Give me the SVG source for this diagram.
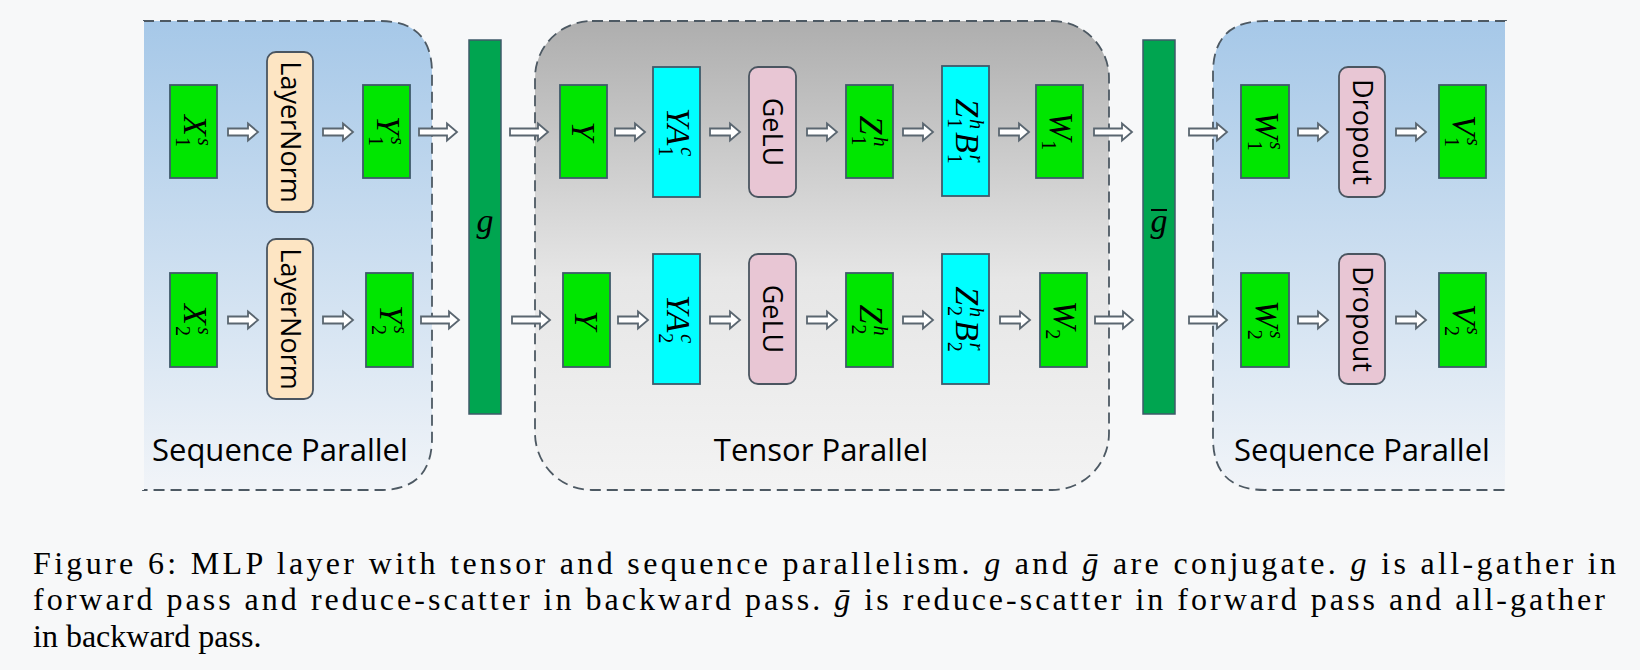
<svg xmlns="http://www.w3.org/2000/svg" width="1640" height="670" viewBox="0 0 1640 670">
<defs>
<linearGradient id="gb" x1="0" y1="0" x2="0" y2="1"><stop offset="0" stop-color="#a6c8e8"/><stop offset="1" stop-color="#f1f4f8"/></linearGradient>
<linearGradient id="gg" x1="0" y1="0" x2="0" y2="1"><stop offset="0" stop-color="#aeaeae"/><stop offset="0.55" stop-color="#e6e6e6"/><stop offset="1" stop-color="#f3f3f3"/></linearGradient>
<path id="ar" d="M0,-3.5 H20 V-8.5 L30,0 L20,8.5 V3.5 H0 Z" fill="#fff" stroke="#5a6670" stroke-width="1.8"/>
<path id="arl" d="M0,-3.5 H28 V-8.5 L38,0 L28,8.5 V3.5 H0 Z" fill="#fff" stroke="#5a6670" stroke-width="1.8"/>
</defs>
<style>
.g{fill:#00e600;stroke:#3f5a6a;stroke-width:1.8}
.c{fill:#00ffff;stroke:#3f5a6a;stroke-width:1.8}
.ln{fill:#fde5c3;stroke:#4a5560;stroke-width:1.8}
.ge{fill:#e8c6d4;stroke:#4a5560;stroke-width:1.8}
.bar{fill:#00a550;stroke:#3f5a6a;stroke-width:1.5}
.m{font-family:"Liberation Serif","DejaVu Serif",serif;font-style:italic;font-size:34px;fill:#000}
.s{font-size:20px}
.sn{font-style:normal}
.w{font-family:"Open Sans","Liberation Sans",sans-serif;font-size:27px;fill:#000}
.lab{font-family:"Open Sans","Liberation Sans",sans-serif;font-size:31px;fill:#000}
.cap{font-family:"Liberation Serif","DejaVu Serif",serif;font-size:32px;fill:#000}
.pn{stroke:#4d5963;stroke-width:1.8;stroke-dasharray:11,6}
</style>
<rect width="1640" height="670" fill="#f7f8f9"/>
<g id="panel-left"><path class="pn" d="M143,21 H380 Q432,21 432,73 V438 Q432,490 380,490 H143 Z" fill="url(#gb)"/><path d="M143,21 V490" stroke="#f7f8f9" stroke-width="2"/><text class="lab" x="152" y="461">Sequence Parallel</text></g>
<g id="panel-mid"><rect class="pn" x="535" y="21" width="574" height="469" rx="57" fill="url(#gg)"/><text class="lab" x="821" y="461" text-anchor="middle">Tensor Parallel</text></g>
<g id="panel-right"><path class="pn" d="M1506,21 H1265 Q1213,21 1213,73 V438 Q1213,490 1265,490 H1506 Z" fill="url(#gb)"/><path d="M1506,21 V490" stroke="#f7f8f9" stroke-width="2"/><text class="lab" x="1362" y="461" text-anchor="middle">Sequence Parallel</text></g>

<g id="connectors">
<use href="#ar" x="228" y="132"/><use href="#ar" x="323" y="132"/><use href="#arl" x="419" y="132"/><use href="#arl" x="510" y="132"/>
<use href="#ar" x="615" y="132"/><use href="#ar" x="710" y="132"/><use href="#ar" x="807" y="132"/><use href="#ar" x="903" y="132"/><use href="#ar" x="999" y="132"/><use href="#arl" x="1094" y="132"/>
<use href="#arl" x="1189" y="132"/><use href="#ar" x="1298" y="132"/><use href="#ar" x="1396" y="132"/>
<use href="#ar" x="228" y="320"/><use href="#ar" x="323" y="320"/><use href="#arl" x="421" y="320"/><use href="#arl" x="512" y="320"/>
<use href="#ar" x="618" y="320"/><use href="#ar" x="710" y="320"/><use href="#ar" x="807" y="320"/><use href="#ar" x="903" y="320"/><use href="#ar" x="1000" y="320"/><use href="#arl" x="1095" y="320"/>
<use href="#arl" x="1189" y="320"/><use href="#ar" x="1298" y="320"/><use href="#ar" x="1396" y="320"/>
</g>

<g id="X1"><rect class="g" x="170" y="85" width="47" height="93"/><text class="m" transform="translate(193,131) rotate(90)" text-anchor="middle" dy="9">X<tspan class="s sn" dx="1" dy="8">1</tspan><tspan class="s" dx="-9" dy="-22">s</tspan></text></g>
<g id="LN1"><rect class="ln" x="267" y="52" width="46" height="160" rx="9"/><text class="w" transform="translate(290,132) rotate(90)" text-anchor="middle" dy="9">LayerNorm</text></g>
<g id="Y1s"><rect class="g" x="363" y="85" width="47" height="93"/><text class="m" transform="translate(386,131) rotate(90)" text-anchor="middle" dy="9">Y<tspan class="s sn" dx="1" dy="8">1</tspan><tspan class="s" dx="-9" dy="-22">s</tspan></text></g>
<g id="X2"><rect class="g" x="170" y="273" width="47" height="94"/><text class="m" transform="translate(193,320) rotate(90)" text-anchor="middle" dy="9">X<tspan class="s sn" dx="1" dy="8">2</tspan><tspan class="s" dx="-9" dy="-22">s</tspan></text></g>
<g id="LN2"><rect class="ln" x="267" y="239" width="46" height="160" rx="9"/><text class="w" transform="translate(290,319) rotate(90)" text-anchor="middle" dy="9">LayerNorm</text></g>
<g id="Y2s"><rect class="g" x="366" y="273" width="47" height="94"/><text class="m" transform="translate(389,320) rotate(90)" text-anchor="middle" dy="9">Y<tspan class="s sn" dx="1" dy="8">2</tspan><tspan class="s" dx="-9" dy="-22">s</tspan></text></g>

<g id="gbar"><rect class="bar" x="469" y="40" width="32" height="374"/><text class="m" x="485" y="232" text-anchor="middle">g</text></g>

<g id="Ya"><rect class="g" x="560" y="85" width="47" height="93"/><text class="m" transform="translate(583,131) rotate(90)" text-anchor="middle" dy="11">Y</text></g>
<g id="YA1"><rect class="c" x="653" y="67" width="47" height="130"/><text class="m" transform="translate(676,132) rotate(90)" text-anchor="middle" dy="9">YA<tspan class="s sn" dx="1" dy="8">1</tspan><tspan class="s" dx="-9" dy="-22">c</tspan></text></g>
<g id="GeLU1"><rect class="ge" x="749" y="67" width="47" height="130" rx="9"/><text class="w" transform="translate(772,132) rotate(90)" text-anchor="middle" dy="9">GeLU</text></g>
<g id="Z1"><rect class="g" x="846" y="85" width="47" height="93"/><text class="m" transform="translate(869,131) rotate(90)" text-anchor="middle" dy="9">Z<tspan class="s sn" dx="1" dy="8">1</tspan><tspan class="s" dx="-9" dy="-22">h</tspan></text></g>
<g id="ZB1"><rect class="c" x="942" y="66" width="47" height="130"/><text class="m" transform="translate(965,131) rotate(90)" text-anchor="middle" dy="9">Z<tspan class="s sn" dx="1" dy="8">1</tspan><tspan class="s" dx="-9" dy="-22">h</tspan><tspan dy="14" dx="3">B</tspan><tspan class="s sn" dx="1" dy="8">1</tspan><tspan class="s" dx="-9" dy="-22">r</tspan></text></g>
<g id="W1"><rect class="g" x="1036" y="85" width="47" height="93"/><text class="m" transform="translate(1059,131) rotate(90)" text-anchor="middle" dy="9">W<tspan class="s sn" dy="8">1</tspan></text></g>

<g id="Yb"><rect class="g" x="563" y="273" width="47" height="94"/><text class="m" transform="translate(586,320) rotate(90)" text-anchor="middle" dy="11">Y</text></g>
<g id="YA2"><rect class="c" x="653" y="254" width="47" height="130"/><text class="m" transform="translate(676,319) rotate(90)" text-anchor="middle" dy="9">YA<tspan class="s sn" dx="1" dy="8">2</tspan><tspan class="s" dx="-9" dy="-22">c</tspan></text></g>
<g id="GeLU2"><rect class="ge" x="749" y="254" width="47" height="130" rx="9"/><text class="w" transform="translate(772,319) rotate(90)" text-anchor="middle" dy="9">GeLU</text></g>
<g id="Z2"><rect class="g" x="846" y="273" width="47" height="94"/><text class="m" transform="translate(869,320) rotate(90)" text-anchor="middle" dy="9">Z<tspan class="s sn" dx="1" dy="8">2</tspan><tspan class="s" dx="-9" dy="-22">h</tspan></text></g>
<g id="ZB2"><rect class="c" x="942" y="254" width="47" height="130"/><text class="m" transform="translate(965,319) rotate(90)" text-anchor="middle" dy="9">Z<tspan class="s sn" dx="1" dy="8">2</tspan><tspan class="s" dx="-9" dy="-22">h</tspan><tspan dy="14" dx="3">B</tspan><tspan class="s sn" dx="1" dy="8">2</tspan><tspan class="s" dx="-9" dy="-22">r</tspan></text></g>
<g id="W2"><rect class="g" x="1040" y="273" width="47" height="94"/><text class="m" transform="translate(1063,320) rotate(90)" text-anchor="middle" dy="9">W<tspan class="s sn" dy="8">2</tspan></text></g>

<g id="gbar2"><rect class="bar" x="1143" y="40" width="32" height="374"/><text class="m" x="1159" y="232" text-anchor="middle">g</text><path d="M1151,210 H1167" stroke="#000" stroke-width="2"/></g>

<g id="W1s"><rect class="g" x="1241" y="85" width="48" height="93"/><text class="m" transform="translate(1265,131) rotate(90)" text-anchor="middle" dy="9">W<tspan class="s sn" dx="1" dy="8">1</tspan><tspan class="s" dx="-9" dy="-22">s</tspan></text></g>
<g id="Drop1"><rect class="ge" x="1339" y="67" width="46" height="130" rx="9"/><text class="w" transform="translate(1362,132) rotate(90)" text-anchor="middle" dy="9">Dropout</text></g>
<g id="V1"><rect class="g" x="1439" y="85" width="47" height="93"/><text class="m" transform="translate(1462,131) rotate(90)" text-anchor="middle" dy="9">V<tspan class="s sn" dx="1" dy="8">1</tspan><tspan class="s" dx="-9" dy="-22">s</tspan></text></g>
<g id="W2s"><rect class="g" x="1241" y="273" width="48" height="94"/><text class="m" transform="translate(1265,320) rotate(90)" text-anchor="middle" dy="9">W<tspan class="s sn" dx="1" dy="8">2</tspan><tspan class="s" dx="-9" dy="-22">s</tspan></text></g>
<g id="Drop2"><rect class="ge" x="1339" y="254" width="46" height="130" rx="9"/><text class="w" transform="translate(1362,319) rotate(90)" text-anchor="middle" dy="9">Dropout</text></g>
<g id="V2"><rect class="g" x="1439" y="273" width="47" height="94"/><text class="m" transform="translate(1462,320) rotate(90)" text-anchor="middle" dy="9">V<tspan class="s sn" dx="1" dy="8">2</tspan><tspan class="s" dx="-9" dy="-22">s</tspan></text></g>

<g id="caption">
<text class="cap" x="33" y="574" textLength="1583" lengthAdjust="spacing">Figure 6: MLP layer with tensor and sequence parallelism. <tspan font-style="italic">g</tspan> and <tspan font-style="italic">ḡ</tspan> are conjugate. <tspan font-style="italic">g</tspan> is all-gather in</text>
<text class="cap" x="33" y="610" textLength="1572" lengthAdjust="spacing">forward pass and reduce-scatter in backward pass. <tspan font-style="italic">ḡ</tspan> is reduce-scatter in forward pass and all-gather</text>
<text class="cap" x="33" y="647">in backward pass.</text>
</g>
</svg>
